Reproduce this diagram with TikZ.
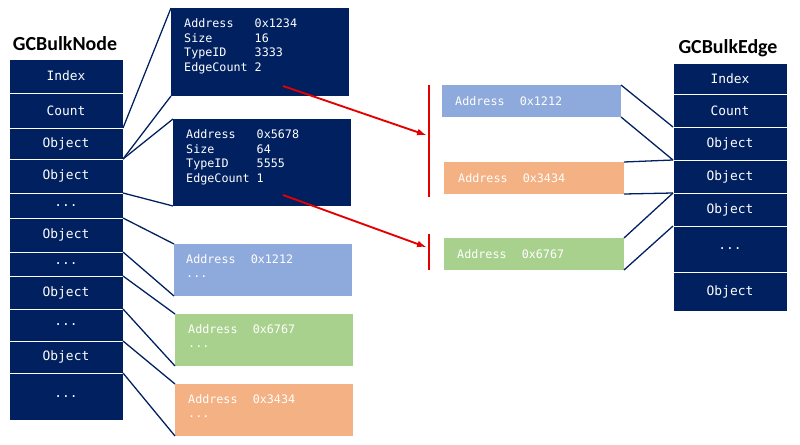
\documentclass[tikz,border=0pt]{standalone}
\usepackage{fontspec}
\setmainfont{Carlito}
\setmonofont{DejaVu Sans Mono}
\usetikzlibrary{calc,positioning}
\definecolor{navy}{RGB}{0,32,96}
\definecolor{addrblue}{RGB}{142,169,219}
\definecolor{addrgreen}{RGB}{169,209,142}
\definecolor{addrorange}{RGB}{244,177,131}
\newcommand\etc{...}
\tikzset{cell/.style={fill=navy,draw=white,line width=0.6pt,text=white,font=\ttfamily\fontsize{11}{12}\selectfont},
objbox/.style={fill=navy,anchor=north west,text=white,inner sep=0pt,font=\ttfamily\fontsize{10}{12.5}\selectfont},
addrbox/.style={anchor=north west,text=white,inner sep=0pt,font=\ttfamily\fontsize{10}{12}\selectfont},
link/.style={navy,line width=1.1pt},
ref/.style={red!90!black,line width=1.6pt}}
\begin{document}
\begin{tikzpicture}[x=0.03cm, y=-0.03cm]
\useasboundingbox (0,0) rectangle (800,445);

% Titles
\node[font=\bfseries\fontsize{17}{18}\selectfont] (nodetitle) at (65,44) {GCBulkNode};
\node[font=\bfseries\fontsize{17}{18}\selectfont] (edgetitle) at (728,48) {GCBulkEdge};

% GCBulkNode column
\foreach \name/\ya/\yb/\txt in {n1/59/93/Index, n2/93/128/Count, n3/128/159/Object, n4/159/193/Object, n5/193/218/\etc, n6/218/252/Object, n7/252/276/\etc, n8/276/309/Object, n9/309/341/\etc, n10/341/373/Object, n11/373/420/\etc}
  \draw[cell] (9,\ya) rectangle (123,\yb) node[midway] (\name) {\txt};

% GCBulkEdge column
\foreach \name/\ya/\yb/\txt in {e1/63/94/Index, e2/94/127/Count, e3/127/160/Object, e4/160/193/Object, e5/193/226/Object, e6/226/272/\etc, e7/272/311/Object}
  \draw[cell] (673,\ya) rectangle (787,\yb) node[midway] (\name) {\txt};

% Objects
\fill[navy] (171,8) rectangle (349,96);
\fill[navy] (173,119) rectangle (351,206);
\node[objbox] (obj1) at (184,17) {\begin{tabular}{@{}l@{\hspace{0.6em}}l@{}}Address&0x1234\\Size&16\\TypeID&3333\\EdgeCount&2\end{tabular}};
\node[objbox] (obj2) at (186,128) {\begin{tabular}{@{}l@{\hspace{0.6em}}l@{}}Address&0x5678\\Size&64\\TypeID&5555\\EdgeCount&1\end{tabular}};

% Addresses under the nodes
\fill[addrblue] (174,244) rectangle (352,296);
\fill[addrgreen] (175,314) rectangle (353,366);
\fill[addrorange] (175,384) rectangle (353,436);
\node[addrbox] (nblue) at (186,253) {\begin{tabular}{@{}l@{}}Address\hspace{1.3em}0x1212\\...\end{tabular}};
\node[addrbox] (ngreen) at (188,323) {\begin{tabular}{@{}l@{}}Address\hspace{1.3em}0x6767\\...\end{tabular}};
\node[addrbox] (norange) at (188,393) {\begin{tabular}{@{}l@{}}Address\hspace{1.3em}0x3434\\...\end{tabular}};

% Addresses of the edges
\fill[addrblue] (442,85) rectangle (621,117);
\fill[addrorange] (444,162) rectangle (624,194);
\fill[addrgreen] (444,238) rectangle (624,270);
\node[addrbox,anchor=west] (eblue) at (455,101) {Address\hspace{1.3em}0x1212};
\node[addrbox,anchor=west] (eorange) at (458,178) {Address\hspace{1.3em}0x3434};
\node[addrbox,anchor=west] (egreen) at (457,254) {Address\hspace{1.3em}0x6767};

% Links from the node column
\draw[link] (123,128) -- (171,8);
\draw[link] (123,159) -- (171,96);
\draw[link] (123,159) -- (173,119);
\draw[link] (123,193) -- (173,206);
\draw[link] (123,218) -- (174,244);
\draw[link] (123,252) -- (174,296);
\draw[link] (123,276) -- (175,314);
\draw[link] (123,309) -- (175,366);
\draw[link] (123,341) -- (175,384);
\draw[link] (123,373) -- (175,436);

% Links to the edge column
\draw[link] (621,85) -- (673,127);
\draw[link] (621,117) -- (673,160);
\draw[link] (624,162) -- (673,160);
\draw[link] (624,194) -- (673,193);
\draw[link] (624,238) -- (673,193);
\draw[link] (624,270) -- (673,226);

% Edge ranges
\draw[ref] (429,85) -- (429,197);
\draw[ref] (429,234) -- (429,270);
\draw[ref,-latex] (283,86) -- (426,135);
\draw[ref,-latex] (283,195) -- (426,247);

\end{tikzpicture}
\end{document}
